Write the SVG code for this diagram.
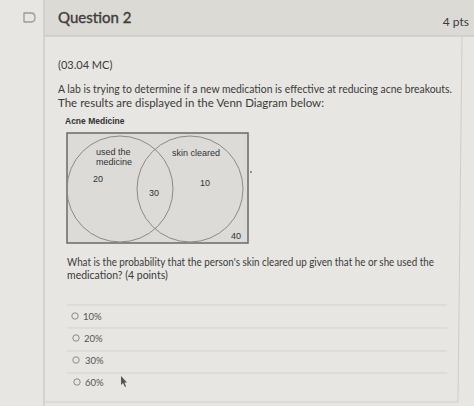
<svg xmlns="http://www.w3.org/2000/svg" width="474" height="406" viewBox="0 0 474 406">
<style>
.t{font-family:Lato,"Open Sans","Liberation Sans",sans-serif;fill:#3b3b3b}
.s{font-family:"Liberation Sans",Arial,sans-serif;fill:#333}
.opt{font-family:Lato,"Liberation Sans",sans-serif;fill:#555;font-size:9.5px}
.sep{stroke:#d2d1cd;stroke-width:1}
.radio{fill:none;stroke:#8a8a8a;stroke-width:1}
</style>
<rect width="474" height="406" fill="#e7e6e3"/>
<rect x="44" y="0" width="430" height="36" fill="#dcdad5"/>
<line x1="44" y1="36" x2="474" y2="36" stroke="#c4c2bd" stroke-width="1"/>
<line x1="44" y1="0" x2="44" y2="406" stroke="#c8c6c1" stroke-width="1.2"/>
<path d="M462 36 L458 402" stroke="#cfcdc8" stroke-width="1"/>
<line x1="44" y1="402" x2="458" y2="402" stroke="#cfcdc8" stroke-width="1"/>
<g id="icon"><path d="M24 13 H31 Q35 13 35 17.5 Q35 22 31 22 H24 Z" fill="none" stroke="#9a9a9a" stroke-width="1.3" stroke-linejoin="round"/></g>
<text class="t" x="58" y="23" font-size="15" fill="#444" stroke="#444" stroke-width="0.4">Question 2</text>
<text class="t" x="469" y="26" font-size="12" fill="#555" text-anchor="end">4 pts</text>
<text class="t" x="58" y="69" font-size="11">(03.04 MC)</text>
<text class="t" x="58" y="93" font-size="11" textLength="394" lengthAdjust="spacingAndGlyphs">A lab is trying to determine if a new medication is effective at reducing acne breakouts.</text>
<text class="t" x="58" y="107" font-size="11.5">The results are displayed in the Venn Diagram below:</text>
<text class="s" x="65" y="124" font-size="8.5" font-weight="bold">Acne Medicine</text>
<g id="venn">
<rect x="67" y="133" width="181" height="110" fill="#dcdbd7" stroke="#6a6a6a" stroke-width="1.5"/>
<g id="circleA"><circle cx="120" cy="189" r="53" fill="none" stroke="#8a8a8a" stroke-width="1"/>
<text class="s" x="96" y="155" font-size="9">used the</text>
<text class="s" x="96" y="165" font-size="9">medicine</text>
<text class="s" x="93" y="182" font-size="9">20</text></g>
<g id="circleB"><circle cx="190" cy="189" r="53" fill="none" stroke="#8a8a8a" stroke-width="1"/>
<text class="s" x="172" y="156" font-size="9">skin cleared</text>
<text class="s" x="200" y="186" font-size="9">10</text></g>
<text class="s" x="149" y="196" font-size="9">30</text>
<text class="s" x="231" y="239" font-size="9">40</text>
</g>
<circle cx="251" cy="172" r="0.9" fill="#666"/>
<text class="t" x="67" y="266" font-size="10.5" textLength="367" lengthAdjust="spacingAndGlyphs">What is the probability that the person's skin cleared up given that he or she used the</text>
<text class="t" x="67" y="279" font-size="10.5">medication? (4 points)</text>
<g id="options">
<line class="sep" x1="67" y1="305" x2="447" y2="305"/>
<line class="sep" x1="67" y1="328" x2="447" y2="328"/>
<line class="sep" x1="67" y1="351" x2="447" y2="351"/>
<line class="sep" x1="67" y1="373" x2="447" y2="373"/>
<g id="opt1"><circle class="radio" cx="75" cy="316" r="3.2"/><text class="opt" x="83" y="319.5">10%</text></g>
<g id="opt2"><circle class="radio" cx="76" cy="338" r="3.2"/><text class="opt" x="84" y="341.5">20%</text></g>
<g id="opt3"><circle class="radio" cx="76" cy="360" r="3.2"/><text class="opt" x="85" y="363.5">30%</text></g>
<g id="opt4"><circle class="radio" cx="77" cy="382" r="3.2"/><text class="opt" x="85" y="385.5">60%</text></g>
</g>
<path d="M121 376 L121 385 L123 383 L125 387 L126 386.5 L124.5 382.5 L127 382.5 Z" fill="#555"/>
</svg>
